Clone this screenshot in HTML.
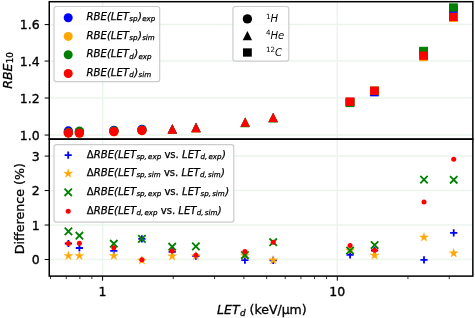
<!DOCTYPE html>
<html lang="en"><head><meta charset="utf-8"><title>RBE vs LET</title>
<style>html,body{margin:0;padding:0;background:#fff}svg{display:block}</style></head>
<body>
<svg width="475" height="318" viewBox="0 0 475 318" font-family="DejaVu Sans, Liberation Sans, sans-serif">
<rect width="475" height="318" fill="#fff"/>
<g stroke="#ebf5eb" stroke-width="1.5" fill="none">
<path d="M102.60 1.7V276.1"/>
<path d="M337.30 1.7V276.1"/>
<path d="M49.25 135.05H472.85"/>
<path d="M49.25 98.00H472.85"/>
<path d="M49.25 61.05H472.85"/>
<path d="M49.25 24.60H472.85"/>
<path d="M49.25 259.50H472.85"/>
<path d="M49.25 225.03H472.85"/>
<path d="M49.25 190.56H472.85"/>
<path d="M49.25 156.09H472.85"/>
</g>
<g>
<circle cx="68.35" cy="131.00" r="4.65" fill="#0000ff"/>
<circle cx="79.40" cy="131.60" r="4.65" fill="#0000ff"/>
<circle cx="113.90" cy="130.40" r="4.65" fill="#0000ff"/>
<circle cx="141.95" cy="129.30" r="4.65" fill="#0000ff"/>
<path d="M172.30 123.95L177.00 133.35H167.60Z" fill="#0000ff"/>
<path d="M196.00 122.60L200.70 132.00H191.30Z" fill="#0000ff"/>
<path d="M245.15 117.40L249.85 126.80H240.45Z" fill="#0000ff"/>
<path d="M273.15 112.70L277.85 122.10H268.45Z" fill="#0000ff"/>
<rect x="345.60" y="97.75" width="8.8" height="8.3" fill="#0000ff"/>
<rect x="370.00" y="88.05" width="8.8" height="8.3" fill="#0000ff"/>
<rect x="419.20" y="47.85" width="8.8" height="8.3" fill="#0000ff"/>
<rect x="449.00" y="4.60" width="8.8" height="8.3" fill="#0000ff"/>
</g>
<g>
<circle cx="68.35" cy="133.00" r="4.65" fill="#ffa500"/>
<circle cx="79.40" cy="133.10" r="4.65" fill="#ffa500"/>
<circle cx="113.90" cy="131.60" r="4.65" fill="#ffa500"/>
<circle cx="141.95" cy="130.50" r="4.65" fill="#ffa500"/>
<path d="M172.30 124.50L177.00 133.90H167.60Z" fill="#ffa500"/>
<path d="M196.00 123.15L200.70 132.55H191.30Z" fill="#ffa500"/>
<path d="M245.15 117.50L249.85 126.90H240.45Z" fill="#ffa500"/>
<path d="M273.15 112.80L277.85 122.20H268.45Z" fill="#ffa500"/>
<rect x="345.60" y="97.65" width="8.8" height="8.3" fill="#ffa500"/>
<rect x="370.00" y="86.65" width="8.8" height="8.3" fill="#ffa500"/>
<rect x="419.20" y="52.85" width="8.8" height="8.3" fill="#ffa500"/>
<rect x="449.00" y="13.60" width="8.8" height="8.3" fill="#ffa500"/>
</g>
<g>
<circle cx="68.35" cy="132.30" r="4.65" fill="#008000"/>
<circle cx="79.40" cy="131.20" r="4.65" fill="#008000"/>
<circle cx="113.90" cy="131.00" r="4.65" fill="#008000"/>
<circle cx="141.95" cy="130.10" r="4.65" fill="#008000"/>
<path d="M172.30 124.30L177.00 133.70H167.60Z" fill="#008000"/>
<path d="M196.00 122.80L200.70 132.20H191.30Z" fill="#008000"/>
<path d="M245.15 117.75L249.85 127.15H240.45Z" fill="#008000"/>
<path d="M273.15 113.05L277.85 122.45H268.45Z" fill="#008000"/>
<rect x="345.60" y="98.80" width="8.8" height="8.3" fill="#008000"/>
<rect x="370.00" y="86.75" width="8.8" height="8.3" fill="#008000"/>
<rect x="419.20" y="46.80" width="8.8" height="8.3" fill="#008000"/>
<rect x="449.00" y="3.30" width="8.8" height="8.3" fill="#008000"/>
</g>
<g>
<circle cx="68.35" cy="133.00" r="4.65" fill="#ff0000"/>
<circle cx="79.40" cy="133.10" r="4.65" fill="#ff0000"/>
<circle cx="113.90" cy="131.60" r="4.65" fill="#ff0000"/>
<circle cx="141.95" cy="130.50" r="4.65" fill="#ff0000"/>
<path d="M172.30 124.25L177.00 133.65H167.60Z" fill="#ff0000"/>
<path d="M196.00 122.75L200.70 132.15H191.30Z" fill="#ff0000"/>
<path d="M245.15 117.40L249.85 126.80H240.45Z" fill="#ff0000"/>
<path d="M273.15 112.70L277.85 122.10H268.45Z" fill="#ff0000"/>
<rect x="345.60" y="97.55" width="8.8" height="8.3" fill="#ff0000"/>
<rect x="370.00" y="86.55" width="8.8" height="8.3" fill="#ff0000"/>
<rect x="419.20" y="51.55" width="8.8" height="8.3" fill="#ff0000"/>
<rect x="449.00" y="12.85" width="8.8" height="8.3" fill="#ff0000"/>
</g>
<g>
<path d="M64.80 243.50H72.00M68.40 239.90V247.10" stroke="#0000ff" stroke-width="1.8" fill="none"/>
<path d="M75.80 248.00H83.00M79.40 244.40V251.60" stroke="#0000ff" stroke-width="1.8" fill="none"/>
<path d="M110.20 250.90H117.40M113.80 247.30V254.50" stroke="#0000ff" stroke-width="1.8" fill="none"/>
<path d="M138.30 238.90H145.50M141.90 235.30V242.50" stroke="#0000ff" stroke-width="1.8" fill="none"/>
<path d="M168.60 251.90H175.80M172.20 248.30V255.50" stroke="#0000ff" stroke-width="1.8" fill="none"/>
<path d="M192.30 256.20H199.50M195.90 252.60V259.80" stroke="#0000ff" stroke-width="1.8" fill="none"/>
<path d="M241.30 260.10H248.50M244.90 256.50V263.70" stroke="#0000ff" stroke-width="1.8" fill="none"/>
<path d="M269.60 260.40H276.80M273.20 256.80V264.00" stroke="#0000ff" stroke-width="1.8" fill="none"/>
<path d="M346.50 254.90H353.70M350.10 251.30V258.50" stroke="#0000ff" stroke-width="1.8" fill="none"/>
<path d="M371.00 250.50H378.20M374.60 246.90V254.10" stroke="#0000ff" stroke-width="1.8" fill="none"/>
<path d="M420.40 259.90H427.60M424.00 256.30V263.50" stroke="#0000ff" stroke-width="1.8" fill="none"/>
<path d="M450.10 232.90H457.30M453.70 229.30V236.50" stroke="#0000ff" stroke-width="1.8" fill="none"/>
</g><g>
<path d="M68.40 251.20L69.43 254.38L72.77 254.38L70.07 256.34L71.10 259.52L68.40 257.56L65.70 259.52L66.73 256.34L64.03 254.38L67.37 254.38Z" fill="#ffa500" stroke="#ffa500" stroke-width="0.4"/>
<path d="M79.40 251.20L80.43 254.38L83.77 254.38L81.07 256.34L82.10 259.52L79.40 257.56L76.70 259.52L77.73 256.34L75.03 254.38L78.37 254.38Z" fill="#ffa500" stroke="#ffa500" stroke-width="0.4"/>
<path d="M113.80 251.20L114.83 254.38L118.17 254.38L115.47 256.34L116.50 259.52L113.80 257.56L111.10 259.52L112.13 256.34L109.43 254.38L112.77 254.38Z" fill="#ffa500" stroke="#ffa500" stroke-width="0.4"/>
<path d="M141.90 255.80L142.93 258.98L146.27 258.98L143.57 260.94L144.60 264.12L141.90 262.16L139.20 264.12L140.23 260.94L137.53 258.98L140.87 258.98Z" fill="#ffa500" stroke="#ffa500" stroke-width="0.4"/>
<path d="M172.20 251.60L173.23 254.78L176.57 254.78L173.87 256.74L174.90 259.92L172.20 257.96L169.50 259.92L170.53 256.74L167.83 254.78L171.17 254.78Z" fill="#ffa500" stroke="#ffa500" stroke-width="0.4"/>
<path d="M195.90 251.50L196.93 254.68L200.27 254.68L197.57 256.64L198.60 259.82L195.90 257.86L193.20 259.82L194.23 256.64L191.53 254.68L194.87 254.68Z" fill="#ffa500" stroke="#ffa500" stroke-width="0.4"/>
<path d="M244.90 251.00L245.93 254.18L249.27 254.18L246.57 256.14L247.60 259.32L244.90 257.36L242.20 259.32L243.23 256.14L240.53 254.18L243.87 254.18Z" fill="#ffa500" stroke="#ffa500" stroke-width="0.4"/>
<path d="M273.20 255.60L274.23 258.78L277.57 258.78L274.87 260.74L275.90 263.92L273.20 261.96L270.50 263.92L271.53 260.74L268.83 258.78L272.17 258.78Z" fill="#ffa500" stroke="#ffa500" stroke-width="0.4"/>
<path d="M350.10 245.80L351.13 248.98L354.47 248.98L351.77 250.94L352.80 254.12L350.10 252.16L347.40 254.12L348.43 250.94L345.73 248.98L349.07 248.98Z" fill="#ffa500" stroke="#ffa500" stroke-width="0.4"/>
<path d="M374.60 250.80L375.63 253.98L378.97 253.98L376.27 255.94L377.30 259.12L374.60 257.16L371.90 259.12L372.93 255.94L370.23 253.98L373.57 253.98Z" fill="#ffa500" stroke="#ffa500" stroke-width="0.4"/>
<path d="M424.00 232.70L425.03 235.88L428.37 235.88L425.67 237.84L426.70 241.02L424.00 239.06L421.30 241.02L422.33 237.84L419.63 235.88L422.97 235.88Z" fill="#ffa500" stroke="#ffa500" stroke-width="0.4"/>
<path d="M453.70 248.60L454.73 251.78L458.07 251.78L455.37 253.74L456.40 256.92L453.70 254.96L451.00 256.92L452.03 253.74L449.33 251.78L452.67 251.78Z" fill="#ffa500" stroke="#ffa500" stroke-width="0.4"/>
</g><g>
<path d="M64.70 227.70L72.10 235.10M64.70 235.10L72.10 227.70" stroke="#008000" stroke-width="1.8" fill="none"/>
<path d="M75.70 232.00L83.10 239.40M75.70 239.40L83.10 232.00" stroke="#008000" stroke-width="1.8" fill="none"/>
<path d="M110.10 240.00L117.50 247.40M110.10 247.40L117.50 240.00" stroke="#008000" stroke-width="1.8" fill="none"/>
<path d="M138.20 235.20L145.60 242.60M138.20 242.60L145.60 235.20" stroke="#008000" stroke-width="1.8" fill="none"/>
<path d="M168.50 243.00L175.90 250.40M168.50 250.40L175.90 243.00" stroke="#008000" stroke-width="1.8" fill="none"/>
<path d="M192.20 242.70L199.60 250.10M192.20 250.10L199.60 242.70" stroke="#008000" stroke-width="1.8" fill="none"/>
<path d="M241.20 251.35L248.60 258.75M241.20 258.75L248.60 251.35" stroke="#008000" stroke-width="1.8" fill="none"/>
<path d="M269.50 238.50L276.90 245.90M269.50 245.90L276.90 238.50" stroke="#008000" stroke-width="1.8" fill="none"/>
<path d="M346.40 246.80L353.80 254.20M346.40 254.20L353.80 246.80" stroke="#008000" stroke-width="1.8" fill="none"/>
<path d="M370.90 241.35L378.30 248.75M370.90 248.75L378.30 241.35" stroke="#008000" stroke-width="1.8" fill="none"/>
<path d="M420.30 175.90L427.70 183.30M420.30 183.30L427.70 175.90" stroke="#008000" stroke-width="1.8" fill="none"/>
<path d="M450.00 176.10L457.40 183.50M450.00 183.50L457.40 176.10" stroke="#008000" stroke-width="1.8" fill="none"/>
</g><g>
<circle cx="68.40" cy="243.50" r="2.5" fill="#ff0000"/>
<circle cx="79.40" cy="243.30" r="2.5" fill="#ff0000"/>
<circle cx="113.80" cy="247.70" r="2.5" fill="#ff0000"/>
<circle cx="141.90" cy="259.80" r="2.5" fill="#ff0000"/>
<circle cx="172.20" cy="251.00" r="2.5" fill="#ff0000"/>
<circle cx="195.90" cy="255.30" r="2.5" fill="#ff0000"/>
<circle cx="244.90" cy="251.50" r="2.5" fill="#ff0000"/>
<circle cx="273.20" cy="242.20" r="2.5" fill="#ff0000"/>
<circle cx="350.10" cy="245.40" r="2.5" fill="#ff0000"/>
<circle cx="374.60" cy="250.20" r="2.5" fill="#ff0000"/>
<circle cx="424.00" cy="202.00" r="2.5" fill="#ff0000"/>
<circle cx="453.70" cy="159.35" r="2.5" fill="#ff0000"/>
</g>
<g stroke="#000" stroke-width="1.5" fill="none" stroke-linecap="square">
<rect x="49.25" y="1.7" width="423.6" height="137.45000000000002"/>
<rect x="49.25" y="139.15" width="423.6" height="136.95000000000002"/>
</g>
<g stroke="#000" stroke-width="1" fill="none">
<path d="M49.25 135.05h-4.6"/>
<path d="M49.25 98.00h-4.6"/>
<path d="M49.25 61.05h-4.6"/>
<path d="M49.25 24.60h-4.6"/>
<path d="M49.25 259.50h-4.6"/>
<path d="M49.25 225.03h-4.6"/>
<path d="M49.25 190.56h-4.6"/>
<path d="M49.25 156.09h-4.6"/>
<path d="M102.60 276.1v4.6"/>
<path d="M337.30 276.1v4.6"/>
</g><g stroke="#000" stroke-width="0.8" fill="none">
<path d="M50.53 276.1v3"/>
<path d="M66.24 276.1v3"/>
<path d="M79.86 276.1v3"/>
<path d="M91.86 276.1v3"/>
<path d="M173.25 276.1v3"/>
<path d="M214.58 276.1v3"/>
<path d="M243.90 276.1v3"/>
<path d="M266.65 276.1v3"/>
<path d="M285.23 276.1v3"/>
<path d="M300.94 276.1v3"/>
<path d="M314.56 276.1v3"/>
<path d="M326.56 276.1v3"/>
<path d="M407.95 276.1v3"/>
<path d="M449.28 276.1v3"/>
</g>
<g font-size="12.5" fill="#000" text-anchor="end" stroke="#000" stroke-width="0.35">
<text x="39.7" y="139.65">1.0</text>
<text x="39.7" y="102.60">1.2</text>
<text x="39.7" y="65.65">1.4</text>
<text x="39.7" y="29.20">1.6</text>
<text x="39.7" y="264.10">0</text>
<text x="39.7" y="229.63">1</text>
<text x="39.7" y="195.16">2</text>
<text x="39.7" y="160.69">3</text>
</g>
<g font-size="12.5" fill="#000" text-anchor="middle" stroke="#000" stroke-width="0.35">
<text x="102.60" y="295.9">1</text>
<text x="337.30" y="295.9">10</text>
</g>
<text font-size="12.5" font-style="oblique" stroke="#000" stroke-width="0.3" text-anchor="middle" transform="translate(11.8 70.5) rotate(-90)">RBE<tspan font-size="8.75" font-style="normal" dy="1.6" dx="0.3">10</tspan></text>
<text font-size="12.65" stroke="#000" stroke-width="0.3" text-anchor="middle" transform="translate(23.7 208.7) rotate(-90)">Difference (%)</text>
<text font-size="12.5" stroke="#000" stroke-width="0.3" text-anchor="middle" x="261.9" y="314.0"><tspan font-style="oblique">LET</tspan><tspan font-style="oblique" font-size="8.75" dy="1.6" dx="0.4">d</tspan><tspan dy="-1.6"> (keV/µm)</tspan></text>
<rect x="54" y="6.5" width="105.69999999999999" height="75.1" rx="2.4" fill="#fff" fill-opacity="0.8" stroke="#cccccc" stroke-width="1.2"/>
<circle cx="68.2" cy="17.7" r="4.5" fill="#0000ff"/>
<text x="86.6" y="20.30" font-size="10.1" font-style="oblique" stroke="#000" stroke-width="0.25">RBE(LET<tspan font-size="7.1" dy="1.1" dx="0.3">sp</tspan><tspan dy="-1.1" dx="0.5">)</tspan><tspan font-size="7.1" dy="1.1" dx="0.2">exp</tspan></text>
<circle cx="68.2" cy="36.4" r="4.5" fill="#ffa500"/>
<text x="86.6" y="39.00" font-size="10.1" font-style="oblique" stroke="#000" stroke-width="0.25">RBE(LET<tspan font-size="7.1" dy="1.1" dx="0.3">sp</tspan><tspan dy="-1.1" dx="0.5">)</tspan><tspan font-size="7.1" dy="1.1" dx="0.2">sim</tspan></text>
<circle cx="68.2" cy="54.8" r="4.5" fill="#008000"/>
<text x="86.6" y="57.40" font-size="10.1" font-style="oblique" stroke="#000" stroke-width="0.25">RBE(LET<tspan font-size="7.1" dy="1.1" dx="0.3">d</tspan><tspan dy="-1.1" dx="0.5">)</tspan><tspan font-size="7.1" dy="1.1" dx="0.2">exp</tspan></text>
<circle cx="68.2" cy="73.5" r="4.5" fill="#ff0000"/>
<text x="86.6" y="76.10" font-size="10.1" font-style="oblique" stroke="#000" stroke-width="0.25">RBE(LET<tspan font-size="7.1" dy="1.1" dx="0.3">d</tspan><tspan dy="-1.1" dx="0.5">)</tspan><tspan font-size="7.1" dy="1.1" dx="0.2">sim</tspan></text>
<rect x="232.9" y="6.5" width="55.900000000000006" height="54.6" rx="2.4" fill="#fff" fill-opacity="0.8" stroke="#cccccc" stroke-width="1.2"/>
<circle cx="247.40" cy="18.90" r="4.65" fill="#000"/>
<path d="M247.40 30.90L252.10 40.30H242.70Z" fill="#000"/>
<rect x="243.00" y="48.35" width="8.8" height="8.3" fill="#000"/>
<text x="266" y="22.30" font-size="10.1"><tspan font-size="7.1" dy="-3.8">1</tspan><tspan font-style="oblique" dy="3.8">H</tspan></text>
<text x="266" y="39.00" font-size="10.1"><tspan font-size="7.1" dy="-3.8">4</tspan><tspan font-style="oblique" dy="3.8">He</tspan></text>
<text x="266" y="55.90" font-size="10.1"><tspan font-size="7.1" dy="-3.8">12</tspan><tspan font-style="oblique" dy="3.8">C</tspan></text>
<rect x="54" y="144.6" width="179.8" height="77.5" rx="2.4" fill="#fff" fill-opacity="0.8" stroke="#cccccc" stroke-width="1.2"/>
<path d="M64.60 155.20H71.80M68.20 151.60V158.80" stroke="#0000ff" stroke-width="1.8" fill="none"/>
<path d="M68.20 169.00L69.23 172.18L72.57 172.18L69.87 174.14L70.90 177.32L68.20 175.36L65.50 177.32L66.53 174.14L63.83 172.18L67.17 172.18Z" fill="#ffa500" stroke="#ffa500" stroke-width="0.4"/>
<path d="M64.50 188.60L71.90 196.00M64.50 196.00L71.90 188.60" stroke="#008000" stroke-width="1.8" fill="none"/>
<circle cx="68.20" cy="211.30" r="2.5" fill="#ff0000"/>
<text x="86.8" y="157.90" font-size="10.1" stroke="#000" stroke-width="0.25"><tspan>Δ</tspan><tspan font-style="oblique">RBE(LET</tspan><tspan font-style="oblique" font-size="7.1" dy="1.1" dx="0.3">sp,<tspan dx="1.2">exp</tspan></tspan><tspan dy="-1.1"> vs. </tspan><tspan font-style="oblique">LET</tspan><tspan font-style="oblique" font-size="7.1" dy="1.1" dx="0.3">d,<tspan dx="1.2">exp</tspan></tspan><tspan font-style="oblique" dy="-1.1" dx="0.5">)</tspan></text>
<text x="86.8" y="176.30" font-size="10.1" stroke="#000" stroke-width="0.25"><tspan>Δ</tspan><tspan font-style="oblique">RBE(LET</tspan><tspan font-style="oblique" font-size="7.1" dy="1.1" dx="0.3">sp,<tspan dx="1.2">sim</tspan></tspan><tspan dy="-1.1"> vs. </tspan><tspan font-style="oblique">LET</tspan><tspan font-style="oblique" font-size="7.1" dy="1.1" dx="0.3">d,<tspan dx="1.2">sim</tspan></tspan><tspan font-style="oblique" dy="-1.1" dx="0.5">)</tspan></text>
<text x="86.8" y="195.00" font-size="10.1" stroke="#000" stroke-width="0.25"><tspan>Δ</tspan><tspan font-style="oblique">RBE(LET</tspan><tspan font-style="oblique" font-size="7.1" dy="1.1" dx="0.3">sp,<tspan dx="1.2">exp</tspan></tspan><tspan dy="-1.1"> vs. </tspan><tspan font-style="oblique">LET</tspan><tspan font-style="oblique" font-size="7.1" dy="1.1" dx="0.3">sp,<tspan dx="1.2">sim</tspan></tspan><tspan font-style="oblique" dy="-1.1" dx="0.5">)</tspan></text>
<text x="86.8" y="214.00" font-size="10.1" stroke="#000" stroke-width="0.25"><tspan>Δ</tspan><tspan font-style="oblique">RBE(LET</tspan><tspan font-style="oblique" font-size="7.1" dy="1.1" dx="0.3">d,<tspan dx="1.2">exp</tspan></tspan><tspan dy="-1.1"> vs. </tspan><tspan font-style="oblique">LET</tspan><tspan font-style="oblique" font-size="7.1" dy="1.1" dx="0.3">d,<tspan dx="1.2">sim</tspan></tspan><tspan font-style="oblique" dy="-1.1" dx="0.5">)</tspan></text>
</svg>
</body></html>
